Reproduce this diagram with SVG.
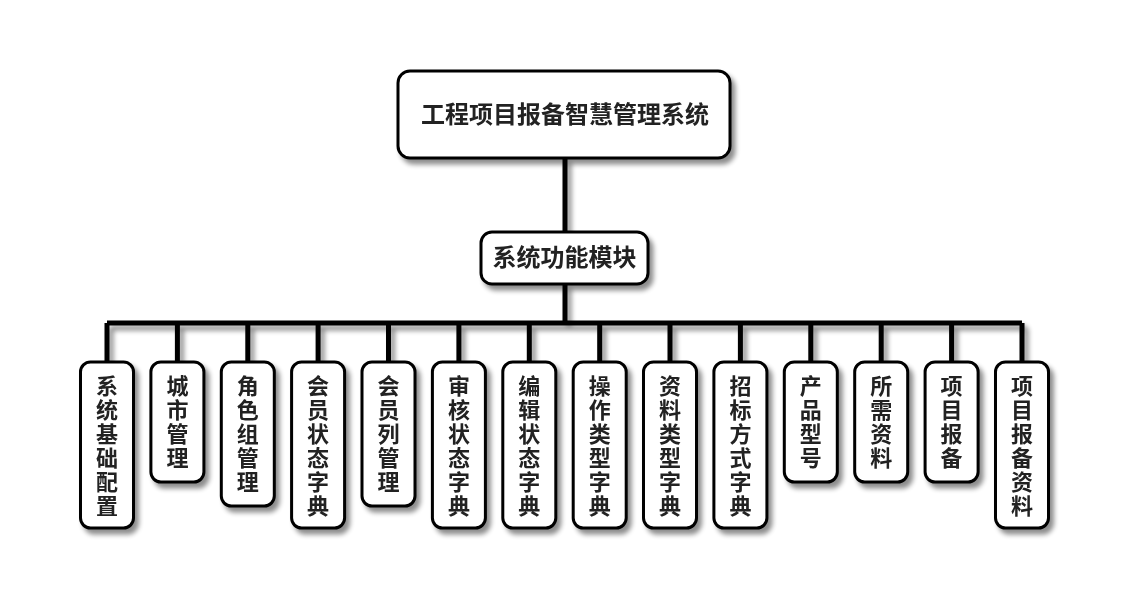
<svg xmlns="http://www.w3.org/2000/svg" width="1128" height="607" viewBox="0 0 1128 607">
<defs>
<filter id="sh" x="-30%" y="-30%" width="160%" height="160%">
<feGaussianBlur in="SourceAlpha" stdDeviation="2.5"/>
<feOffset dx="4" dy="5" result="b"/>
<feComponentTransfer><feFuncA type="linear" slope="0.45"/></feComponentTransfer>
<feMerge><feMergeNode/><feMergeNode in="SourceGraphic"/></feMerge>
</filter>
</defs>
<style>
.box{fill:#fff;stroke:#000;stroke-width:3}
.t{font-family:"Noto Sans CJK SC","Noto Sans",sans-serif;font-weight:bold;fill:#222;text-anchor:middle}
.big{font-size:24px}
.v{font-size:22px}
.ln{stroke:#000;stroke-width:5;fill:none}
</style>
<rect width="1128" height="607" fill="#fff"/>
<g id="connectors" filter="url(#sh)">
<path class="ln" d="M565 158V232M565 284V323M107 323H1022M107 323V362M177.4 323V362M247.8 323V362M318.1 323V362M388.5 323V362M458.9 323V362M529.3 323V362M599.7 323V362M670 323V362M740.4 323V362M810.8 323V362M881.2 323V362M951.6 323V362M1022 323V362"/>
</g>
<g id="root" filter="url(#sh)">
<rect class="box" x="398" y="71" width="332" height="87" rx="12"/>
<text class="t big" x="565" y="123">工程项目报备智慧管理系统</text>
</g>
<g id="module" filter="url(#sh)">
<rect class="box" x="481" y="232" width="167" height="52" rx="11"/>
<text class="t big" x="564.5" y="266">系统功能模块</text>
</g>
<g id="n1" filter="url(#sh)"><rect class="box" x="80.5" y="362" width="53" height="166" rx="10"/>
<text class="t v" x="107"><tspan x="107" y="394">系</tspan><tspan x="107" dy="24">统</tspan><tspan x="107" dy="24">基</tspan><tspan x="107" dy="24">础</tspan><tspan x="107" dy="24">配</tspan><tspan x="107" dy="24">置</tspan></text></g>
<g id="n2" filter="url(#sh)"><rect class="box" x="150.9" y="362" width="53" height="120" rx="10"/>
<text class="t v"><tspan x="177.4" y="394">城</tspan><tspan x="177.4" dy="24">市</tspan><tspan x="177.4" dy="24">管</tspan><tspan x="177.4" dy="24">理</tspan></text></g>
<g id="n3" filter="url(#sh)"><rect class="box" x="221.3" y="362" width="53" height="144" rx="10"/>
<text class="t v"><tspan x="247.8" y="394">角</tspan><tspan x="247.8" dy="24">色</tspan><tspan x="247.8" dy="24">组</tspan><tspan x="247.8" dy="24">管</tspan><tspan x="247.8" dy="24">理</tspan></text></g>
<g id="n4" filter="url(#sh)"><rect class="box" x="291.6" y="362" width="53" height="166" rx="10"/>
<text class="t v"><tspan x="318.1" y="394">会</tspan><tspan x="318.1" dy="24">员</tspan><tspan x="318.1" dy="24">状</tspan><tspan x="318.1" dy="24">态</tspan><tspan x="318.1" dy="24">字</tspan><tspan x="318.1" dy="24">典</tspan></text></g>
<g id="n5" filter="url(#sh)"><rect class="box" x="362" y="362" width="53" height="144" rx="10"/>
<text class="t v"><tspan x="388.5" y="394">会</tspan><tspan x="388.5" dy="24">员</tspan><tspan x="388.5" dy="24">列</tspan><tspan x="388.5" dy="24">管</tspan><tspan x="388.5" dy="24">理</tspan></text></g>
<g id="n6" filter="url(#sh)"><rect class="box" x="432.4" y="362" width="53" height="166" rx="10"/>
<text class="t v"><tspan x="458.9" y="394">审</tspan><tspan x="458.9" dy="24">核</tspan><tspan x="458.9" dy="24">状</tspan><tspan x="458.9" dy="24">态</tspan><tspan x="458.9" dy="24">字</tspan><tspan x="458.9" dy="24">典</tspan></text></g>
<g id="n7" filter="url(#sh)"><rect class="box" x="502.8" y="362" width="53" height="166" rx="10"/>
<text class="t v"><tspan x="529.3" y="394">编</tspan><tspan x="529.3" dy="24">辑</tspan><tspan x="529.3" dy="24">状</tspan><tspan x="529.3" dy="24">态</tspan><tspan x="529.3" dy="24">字</tspan><tspan x="529.3" dy="24">典</tspan></text></g>
<g id="n8" filter="url(#sh)"><rect class="box" x="573.2" y="362" width="53" height="166" rx="10"/>
<text class="t v"><tspan x="599.7" y="394">操</tspan><tspan x="599.7" dy="24">作</tspan><tspan x="599.7" dy="24">类</tspan><tspan x="599.7" dy="24">型</tspan><tspan x="599.7" dy="24">字</tspan><tspan x="599.7" dy="24">典</tspan></text></g>
<g id="n9" filter="url(#sh)"><rect class="box" x="643.5" y="362" width="53" height="166" rx="10"/>
<text class="t v"><tspan x="670" y="394">资</tspan><tspan x="670" dy="24">料</tspan><tspan x="670" dy="24">类</tspan><tspan x="670" dy="24">型</tspan><tspan x="670" dy="24">字</tspan><tspan x="670" dy="24">典</tspan></text></g>
<g id="n10" filter="url(#sh)"><rect class="box" x="713.9" y="362" width="53" height="166" rx="10"/>
<text class="t v"><tspan x="740.4" y="394">招</tspan><tspan x="740.4" dy="24">标</tspan><tspan x="740.4" dy="24">方</tspan><tspan x="740.4" dy="24">式</tspan><tspan x="740.4" dy="24">字</tspan><tspan x="740.4" dy="24">典</tspan></text></g>
<g id="n11" filter="url(#sh)"><rect class="box" x="784.3" y="362" width="53" height="120" rx="10"/>
<text class="t v"><tspan x="810.8" y="394">产</tspan><tspan x="810.8" dy="24">品</tspan><tspan x="810.8" dy="24">型</tspan><tspan x="810.8" dy="24">号</tspan></text></g>
<g id="n12" filter="url(#sh)"><rect class="box" x="854.7" y="362" width="53" height="120" rx="10"/>
<text class="t v"><tspan x="881.2" y="394">所</tspan><tspan x="881.2" dy="24">需</tspan><tspan x="881.2" dy="24">资</tspan><tspan x="881.2" dy="24">料</tspan></text></g>
<g id="n13" filter="url(#sh)"><rect class="box" x="925.1" y="362" width="53" height="120" rx="10"/>
<text class="t v"><tspan x="951.6" y="394">项</tspan><tspan x="951.6" dy="24">目</tspan><tspan x="951.6" dy="24">报</tspan><tspan x="951.6" dy="24">备</tspan></text></g>
<g id="n14" filter="url(#sh)"><rect class="box" x="995.5" y="362" width="53" height="166" rx="10"/>
<text class="t v"><tspan x="1022" y="394">项</tspan><tspan x="1022" dy="24">目</tspan><tspan x="1022" dy="24">报</tspan><tspan x="1022" dy="24">备</tspan><tspan x="1022" dy="24">资</tspan><tspan x="1022" dy="24">料</tspan></text></g>
</svg>
